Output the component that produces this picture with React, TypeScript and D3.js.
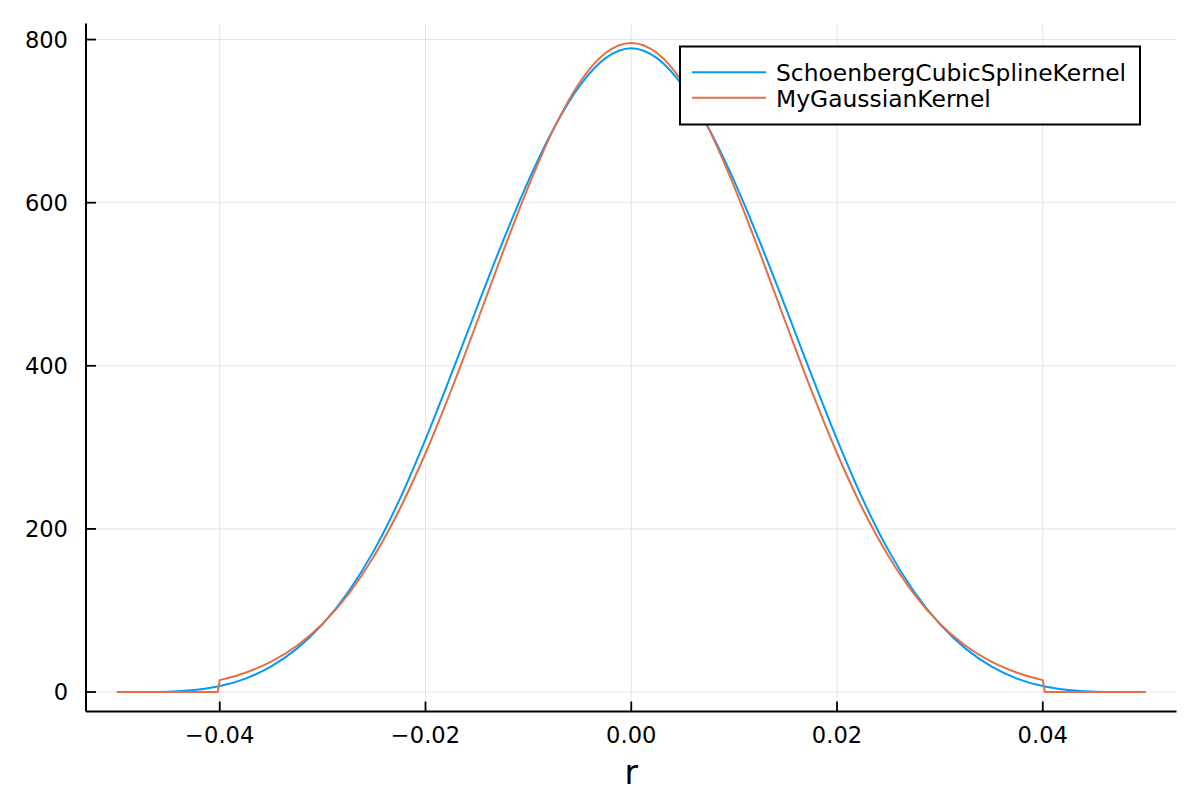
import React from "react";
import * as d3 from "d3";

// r grid (x values)
const rValues = [
  -0.05, -0.0475, -0.045, -0.0425, -0.0402, -0.04, -0.0375, -0.035, -0.0325, -0.03,
  -0.0275, -0.025, -0.0225, -0.02, -0.0175, -0.015, -0.0125, -0.01, -0.0075, -0.005,
  -0.0025, 0, 0.0025, 0.005, 0.0075, 0.01, 0.0125, 0.015, 0.0175, 0.02,
  0.0225, 0.025, 0.0275, 0.03, 0.0325, 0.035, 0.0375, 0.04, 0.0402, 0.0425,
  0.045, 0.0475, 0.05,
];

const splineValues = [
  0, 0, 0.4, 2.4, 6.8, 7.3, 16.5, 31.4, 53.2, 83.3,
  123.0, 173.7, 236.5, 309.8, 389.4, 471.5, 551.9, 626.7, 691.9, 743.5,
  777.3, 789.5, 777.3, 743.5, 691.9, 626.7, 551.9, 471.5, 389.4, 309.8,
  236.5, 173.7, 123.0, 83.3, 53.2, 31.4, 16.5, 7.3, 6.8, 2.4,
  0.4, 0, 0,
];

const gaussianValues = [
  0, 0, 0, 0, 0, 14.6, 23.7, 37.2, 56.8, 83.9,
  120.1, 166.8, 224.5, 292.8, 370.1, 453.4, 538.5, 619.8, 691.4, 747.6,
  783.5, 795.8, 783.5, 747.6, 691.4, 619.8, 538.5, 453.4, 370.1, 292.8,
  224.5, 166.8, 120.1, 83.9, 56.8, 37.2, 23.7, 14.6, 0, 0,
  0, 0, 0,
];

const seriesNames = ["SchoenbergCubicSplineKernel", "MyGaussianKernel"];
const seriesColors = ["#009AFA", "#E36F47"];

const xTicks = [-0.04, -0.02, 0, 0.02, 0.04];
const xTickLabels = ["\u22120.04", "\u22120.02", "0.00", "0.02", "0.04"];
const yTicks = [0, 200, 400, 600, 800];
const yTickLabels = ["0", "200", "400", "600", "800"];
const xLabel = "r";

const FONT = "DejaVu Sans";

export default function App() {
  const left = 86;
  const right = 1176.5;
  const top = 23.5;
  const bottom = 711.5;

  const x = d3.scaleLinear().domain([-0.053, 0.053]).range([left, right]);
  const y = d3.scaleLinear().domain([-23.87, 819.7]).range([bottom, top]);

  type P = [number, number];
  const splinePts: P[] = rValues.map((r, i) => [r, splineValues[i]]);
  const gaussPts: P[] = rValues.map((r, i) => [r, gaussianValues[i]]);

  const mono = d3
    .line<P>()
    .x((d) => x(d[0]))
    .y((d) => y(d[1]))
    .curve(d3.curveMonotoneX);
  const lin = d3
    .line<P>()
    .x((d) => x(d[0]))
    .y((d) => y(d[1]));

  const splinePath = mono(splinePts) || "";

  // gaussian: flat zero parts, cut-off jumps, smooth middle
  const gLeft = gaussPts.filter((d) => d[0] <= -0.0402 + 1e-9);
  const gMid = gaussPts.filter((d) => d[0] >= -0.04 - 1e-9 && d[0] <= 0.04 + 1e-9);
  const gRight = gaussPts.filter((d) => d[0] >= 0.0402 - 1e-9);
  const gaussPath =
    (lin(gLeft) || "") +
    (mono(gMid) || "").replace(/^M/, "L") +
    (lin(gRight) || "").replace(/^M/, "L");

  const gridColor = "rgba(0,0,0,0.1)";

  return (
    <svg
      width={1200}
      height={800}
      style={{ position: "absolute", left: 0, top: 0, background: "#fff" }}
      fontFamily={FONT}
    >
      <rect x={0} y={0} width={1200} height={800} fill="#fff" />
      {/* grid */}
      {xTicks.map((t) => (
        <line key={"gx" + t} x1={x(t)} x2={x(t)} y1={top} y2={bottom} stroke={gridColor} strokeWidth={1} />
      ))}
      {yTicks.map((t) => (
        <line key={"gy" + t} x1={left} x2={right} y1={y(t)} y2={y(t)} stroke={gridColor} strokeWidth={1} />
      ))}

      {/* series */}
      <path d={splinePath} fill="none" stroke={seriesColors[0]} strokeWidth={2} strokeLinejoin="round" />
      <path d={gaussPath} fill="none" stroke={seriesColors[1]} strokeWidth={2} strokeLinejoin="round" />

      {/* axes */}
      <line x1={left} x2={right} y1={bottom} y2={bottom} stroke="#000" strokeWidth={2} />
      <line x1={left} x2={left} y1={top} y2={bottom} stroke="#000" strokeWidth={2} />
      {xTicks.map((t, i) => (
        <g key={"xt" + t}>
          <line x1={x(t)} x2={x(t)} y1={bottom} y2={bottom - 10} stroke="#000" strokeWidth={1.8} />
          <text x={x(t)} y={742.7} fontSize={22.6} textAnchor="middle" fill="#000">
            {xTickLabels[i]}
          </text>
        </g>
      ))}
      {yTicks.map((t, i) => (
        <g key={"yt" + t}>
          <line x1={left} x2={left + 10} y1={y(t)} y2={y(t)} stroke="#000" strokeWidth={1.8} />
          <text x={68} y={y(t) + 8.2} fontSize={22.6} textAnchor="end" fill="#000">
            {yTickLabels[i]}
          </text>
        </g>
      ))}
      <text x={(left + right) / 2} y={783.5} fontSize={33} textAnchor="middle" fill="#000">
        {xLabel}
      </text>

      {/* legend */}
      <rect x={680} y={46.5} width={460} height={78} fill="#fff" stroke="#000" strokeWidth={2} />
      {seriesNames.map((name, i) => (
        <g key={name}>
          <line
            x1={692}
            x2={766}
            y1={72.3 + i * 25.4}
            y2={72.3 + i * 25.4}
            stroke={seriesColors[i]}
            strokeWidth={2}
          />
          <text x={776} y={81 + i * 25.8} fontSize={23.4} fill="#000">
            {name}
          </text>
        </g>
      ))}
    </svg>
  );
}
